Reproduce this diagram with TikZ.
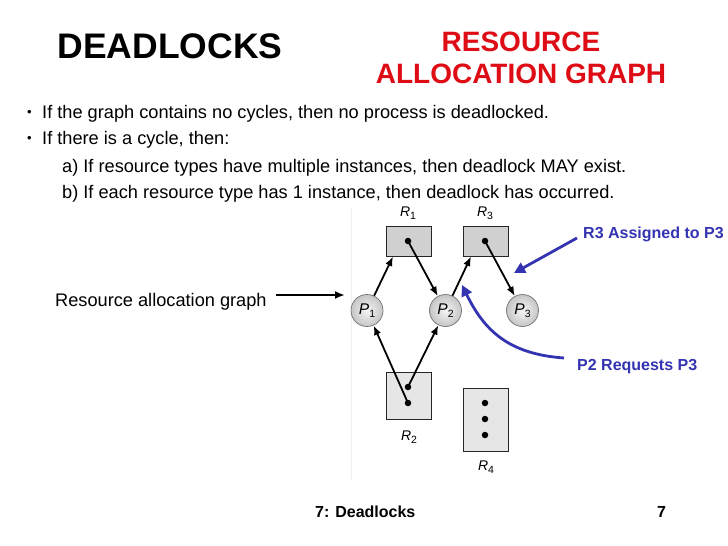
\documentclass[tikz,border=0pt]{standalone}
\usepackage{fontspec}
\setmainfont{Liberation Sans}
\usetikzlibrary{arrows.meta}
\definecolor{titlered}{RGB}{222,12,20}
\definecolor{noteblue}{RGB}{52,52,178}
\definecolor{boxdark}{RGB}{208,208,208}
\definecolor{boxlight}{RGB}{230,230,230}
\newcommand{\lbl}[2]{\textit{#1}\raisebox{-0.35ex}{\fontsize{10.5}{12}\selectfont #2}}
\tikzset{
  txt/.style={inner sep=0pt, anchor=base west, font=\fontsize{18.2}{21}\selectfont},
  resbox/.style={draw=black!85, line width=1pt, inner sep=0pt},
  dotn/.style={circle, fill=black, inner sep=0pt, minimum size=6.5pt},
  proc/.style={circle, draw=black!55, line width=0.7pt, minimum size=32pt, inner sep=0pt,
     shading=radial, inner color=gray!8, outer color=gray!45, font=\fontsize{15.5}{17}\selectfont},
  rlab/.style={font=\fontsize{14}{16}\selectfont, inner sep=0pt},
  edge/.style={line width=1.8pt, -{Latex[length=9.5pt,width=7.5pt]}},
  note/.style={line width=2.8pt, draw=noteblue, -{Triangle[length=11pt,width=11pt]}},
  notetxt/.style={inner sep=0pt, anchor=base west, text=noteblue, font=\bfseries\fontsize{16}{18}\selectfont}
}
\begin{document}
\begin{tikzpicture}[x=1pt,y=-1pt]
\useasboundingbox (0,0) rectangle (728,546);
\fill[white] (0,0) rectangle (728,546);
% faint frame line
\draw[gray!12, line width=0.8pt] (351,207) -- (351,480);
% titles
\node[inner sep=0pt, anchor=base, font=\bfseries\fontsize{35.5}{40}\selectfont] (title) at (170,58) {DEADLOCKS};
\node[inner sep=0pt, anchor=base, text=titlered, font=\bfseries\fontsize{28}{32}\selectfont] (rt1) at (521,51) {RESOURCE};
\node[inner sep=0pt, anchor=base, text=titlered, font=\bfseries\fontsize{28}{32}\selectfont] (rt2) at (521,83) {ALLOCATION GRAPH};
% bullets
\node[txt, font=\fontsize{13}{14}\selectfont] (b1) at (27,116) {•};
\node[txt] (l1) at (42,118) {If the graph contains no cycles, then no process is deadlocked.};
\node[txt, font=\fontsize{13}{14}\selectfont] (b2) at (27,142) {•};
\node[txt] (l2) at (42,144) {If there is a cycle, then:};
\node[txt] (l3) at (62,172) {a) If resource types have multiple instances, then deadlock MAY exist.};
\node[txt] (l4) at (62,198) {b) If each resource type has 1 instance, then deadlock has occurred.};
% resource boxes
\node[resbox, fill=boxdark, minimum width=45pt, minimum height=30pt] (R1) at (408.5,241) {};
\node[resbox, fill=boxdark, minimum width=45pt, minimum height=30pt] (R3) at (485.5,241) {};
\node[resbox, fill=boxlight, minimum width=45pt, minimum height=47pt] (R2) at (408.5,395.5) {};
\node[resbox, fill=boxlight, minimum width=45pt, minimum height=63pt] (R4) at (485.5,419.5) {};
\node[dotn] (d1) at (408,241) {};
\node[dotn] (d3) at (485,241) {};
\node[dotn] (d2a) at (408,387) {};
\node[dotn] (d2b) at (408,403) {};
\node[dotn] (d4a) at (485,403) {};
\node[dotn] (d4b) at (485,419) {};
\node[dotn] (d4c) at (485,435) {};
% labels
\node[rlab] (lR1) at (408,213) {\lbl{R}{1}};
\node[rlab] (lR3) at (485,213) {\lbl{R}{3}};
\node[rlab] (lR2) at (409,437) {\lbl{R}{2}};
\node[rlab] (lR4) at (486,467) {\lbl{R}{4}};
% processes
\node[proc] (P1) at (367,310.5) {\lbl{P}{1}};
\node[proc] (P2) at (445.5,310.5) {\lbl{P}{2}};
\node[proc] (P3) at (522.5,310.5) {\lbl{P}{3}};
% edges
\draw[edge] (P1) -- (R1.south west -| 393,0);
\draw[edge] (d1.center) -- (P2);
\draw[edge] (P2) -- (R3.south west -| 471,0);
\draw[edge] (d3.center) -- (P3);
\draw[edge] (d2a.center) -- (P2);
\draw[edge] (d2b.center) -- (P1);
% resource allocation graph label
\node[txt] (rag) at (55,306) {Resource allocation graph};
\coordinate (ragend) at (345,295);
\draw[line width=2.2pt, -{Latex[length=10pt,width=8pt]}] (rag.east |- ragend) ++(9,0) -- (ragend);
% notes
\node[notetxt] (n1) at (583,238) {R3 Assigned to P3};
\node[notetxt] (n2) at (577,370) {P2 Requests P3};
\coordinate (n1s) at (577,238);
\coordinate (n1e) at (514,273);
\draw[note] (n1s) -- (n1e);
\coordinate (n2s) at (564,358);
\coordinate (n2e) at (462,285);
\draw[note] (n2s) .. controls (508,354) and (484,330) .. (n2e);
% footer
\node[inner sep=0pt, anchor=base west, font=\bfseries\fontsize{16}{18}\selectfont] (f1) at (315,517) {7: Deadlocks};
\node[inner sep=0pt, anchor=base west, font=\bfseries\fontsize{16}{18}\selectfont] (f2) at (657,517) {7};
\end{tikzpicture}
\end{document}
